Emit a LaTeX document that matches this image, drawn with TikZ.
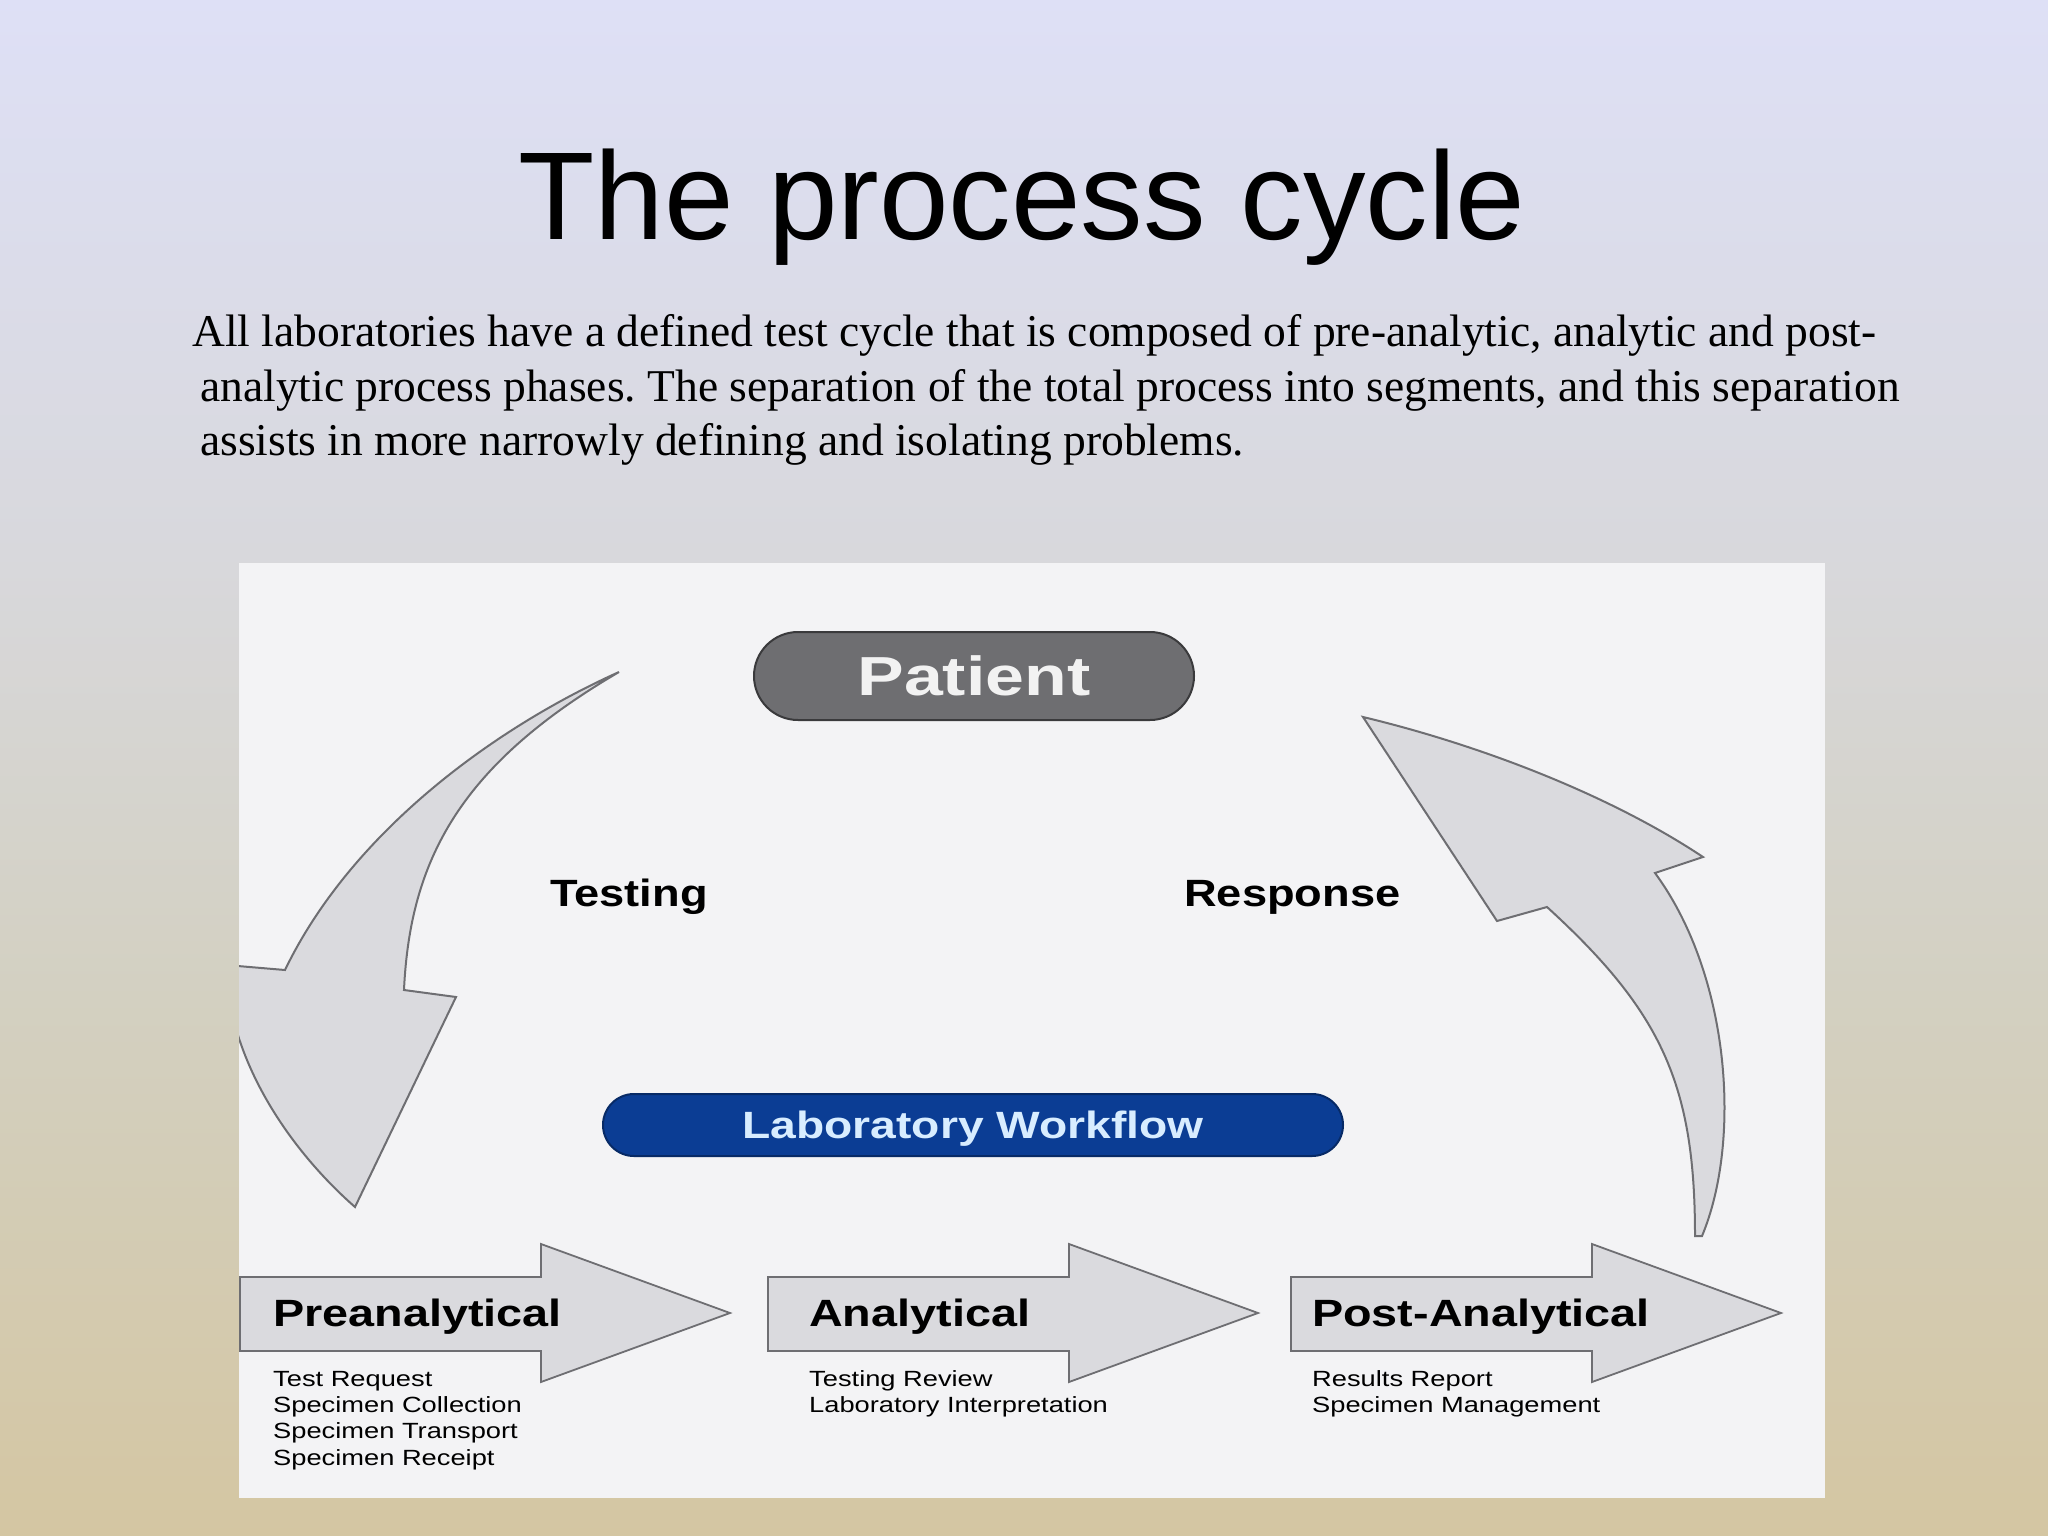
\documentclass[tikz,border=0pt]{standalone}
\usepackage{fontspec}
\setmainfont{Liberation Serif}
\setsansfont{Liberation Sans}
\usepackage{graphicx}
\frenchspacing
\definecolor{bgtop}{HTML}{DEE0F6}
\definecolor{bgmidA}{HTML}{D8D8DC}
\definecolor{bgmidB}{HTML}{D3D0C1}
\definecolor{bgbot}{HTML}{D4C6A2}
\definecolor{panelc}{HTML}{F3F3F5}
\definecolor{arrowc}{HTML}{DADADE}
\definecolor{arrowline}{HTML}{6E6E72}
\definecolor{patientc}{HTML}{6E6E71}
\definecolor{patientline}{HTML}{3A3A3C}
\definecolor{patienttext}{HTML}{F2F2F2}
\definecolor{labc}{HTML}{0B3D94}
\definecolor{labline}{HTML}{072A66}
\definecolor{labtext}{HTML}{D8EDFF}
\pgfdeclareverticalshading{bgshade}{100bp}{color(0bp)=(bgbot); color(25bp)=(bgbot); color(42.5bp)=(bgmidB); color(57bp)=(bgmidA); color(75bp)=(bgtop); color(100bp)=(bgtop)}
\begin{document}
\begin{tikzpicture}[x=1pt,y=-1pt,
  bigarrow/.style={fill=arrowc, draw=arrowline, line width=2pt, line join=miter},
  blockarrow/.style={fill=arrowc, draw=arrowline, line width=1.8pt, line join=miter},
  titletext/.style={inner sep=0pt, anchor=base, font=\sffamily\fontsize{125}{150}\selectfont},
  paratext/.style={inner sep=0pt, anchor=base west, font=\rmfamily\fontsize{45.5}{54}\selectfont},
  steplabel/.style={inner sep=0pt, anchor=base west, font=\sffamily\bfseries\fontsize{38}{44}\selectfont},
  sublabel/.style={inner sep=0pt, anchor=base west, font=\sffamily\fontsize{22}{26.4}\selectfont},
  cyclelabel/.style={inner sep=0pt, anchor=base west, font=\sffamily\bfseries\fontsize{38}{44}\selectfont},
  patientpill/.style={draw=patientline, fill=patientc, line width=2pt, rounded corners=44pt,
    minimum width=440pt, minimum height=88pt, inner sep=0pt, text height=39pt, text depth=0pt,
    text=patienttext, font=\sffamily\bfseries\fontsize{55}{60}\selectfont},
  labpill/.style={draw=labline, fill=labc, line width=2pt, rounded corners=31pt,
    minimum width=740pt, minimum height=62pt, inner sep=0pt, text height=27pt, text depth=0pt,
    text=labtext, font=\sffamily\bfseries\fontsize{38}{44}\selectfont}
]
\useasboundingbox (0,0) rectangle (2048,1536);
\shade[shading=bgshade] (0,0) rectangle (2048,1536);

% title and paragraph
\node[titletext] (title) at (1022,239) {The process cycle};
\node[paratext] (para1) at (192,346) {All laboratories have a defined test cycle that is composed of pre-analytic, analytic and post-};
\node[paratext] (para2) at (200,401) {analytic process phases. The separation of the total process into segments, and this separation};
\node[paratext] (para3) at (200,455) {assists in more narrowly defining and isolating problems.};

% diagram panel
\fill[panelc] (239,563) rectangle (1825,1498);

\begin{scope}
\clip (239,563) rectangle (1825,1498);
% Testing arrow (down-left)
\draw[bigarrow] (619,672) .. controls (490,730) and (350,835) .. (285,970)
  -- (226,965) .. controls (228,1060) and (290,1150) .. (355,1207)
  -- (456,997) -- (404,990) .. controls (410,860) and (460,765) .. (619,672) -- cycle;
% Response arrow (up-left)
\draw[bigarrow] (1363,717) .. controls (1480,745) and (1610,795) .. (1703,857)
  -- (1655,873) .. controls (1730,975) and (1742,1140) .. (1702,1236)
  -- (1695,1236) .. controls (1695,1085) and (1662,1012) .. (1547,907)
  -- (1497,921) -- cycle;
% block arrows
\draw[blockarrow] (240,1277) -- (541,1277) -- (541,1244) -- (730,1313) -- (541,1382) -- (541,1351) -- (240,1351) -- cycle;
\draw[blockarrow] (768,1277) -- (1069,1277) -- (1069,1244) -- (1258,1313) -- (1069,1382) -- (1069,1351) -- (768,1351) -- cycle;
\draw[blockarrow] (1291,1277) -- (1592,1277) -- (1592,1244) -- (1781,1313) -- (1592,1382) -- (1592,1351) -- (1291,1351) -- cycle;
\end{scope}

% pills
\node[patientpill] (patient) at (974,676) {\scalebox{1.27}[1]{Patient}};
\node[labpill] (lab) at (973,1125) {\scalebox{1.216}[1]{Laboratory Workflow}};

% cycle labels
\node[cyclelabel] (testing) at (550,906) {\scalebox{1.19}[1]{Testing}};
\node[cyclelabel] (response) at (1184,906) {\scalebox{1.19}[1]{Response}};

% step labels
\node[steplabel] (pre) at (273,1326) {\scalebox{1.23}[1]{Preanalytical}};
\node[steplabel] (ana) at (809,1326) {\scalebox{1.23}[1]{Analytical}};
\node[steplabel] (post) at (1312,1326) {\scalebox{1.23}[1]{Post-Analytical}};

\node[sublabel] (presub) at (273,1386) {\scalebox{1.24}[1]{\begin{tabular}[t]{@{}l@{}}Test Request\\Specimen Collection\\Specimen Transport\\Specimen Receipt\end{tabular}}};
\node[sublabel] (anasub) at (809,1386) {\scalebox{1.24}[1]{\begin{tabular}[t]{@{}l@{}}Testing Review\\Laboratory Interpretation\end{tabular}}};
\node[sublabel] (postsub) at (1312,1386) {\scalebox{1.24}[1]{\begin{tabular}[t]{@{}l@{}}Results Report\\Specimen Management\end{tabular}}};
\end{tikzpicture}
\end{document}
